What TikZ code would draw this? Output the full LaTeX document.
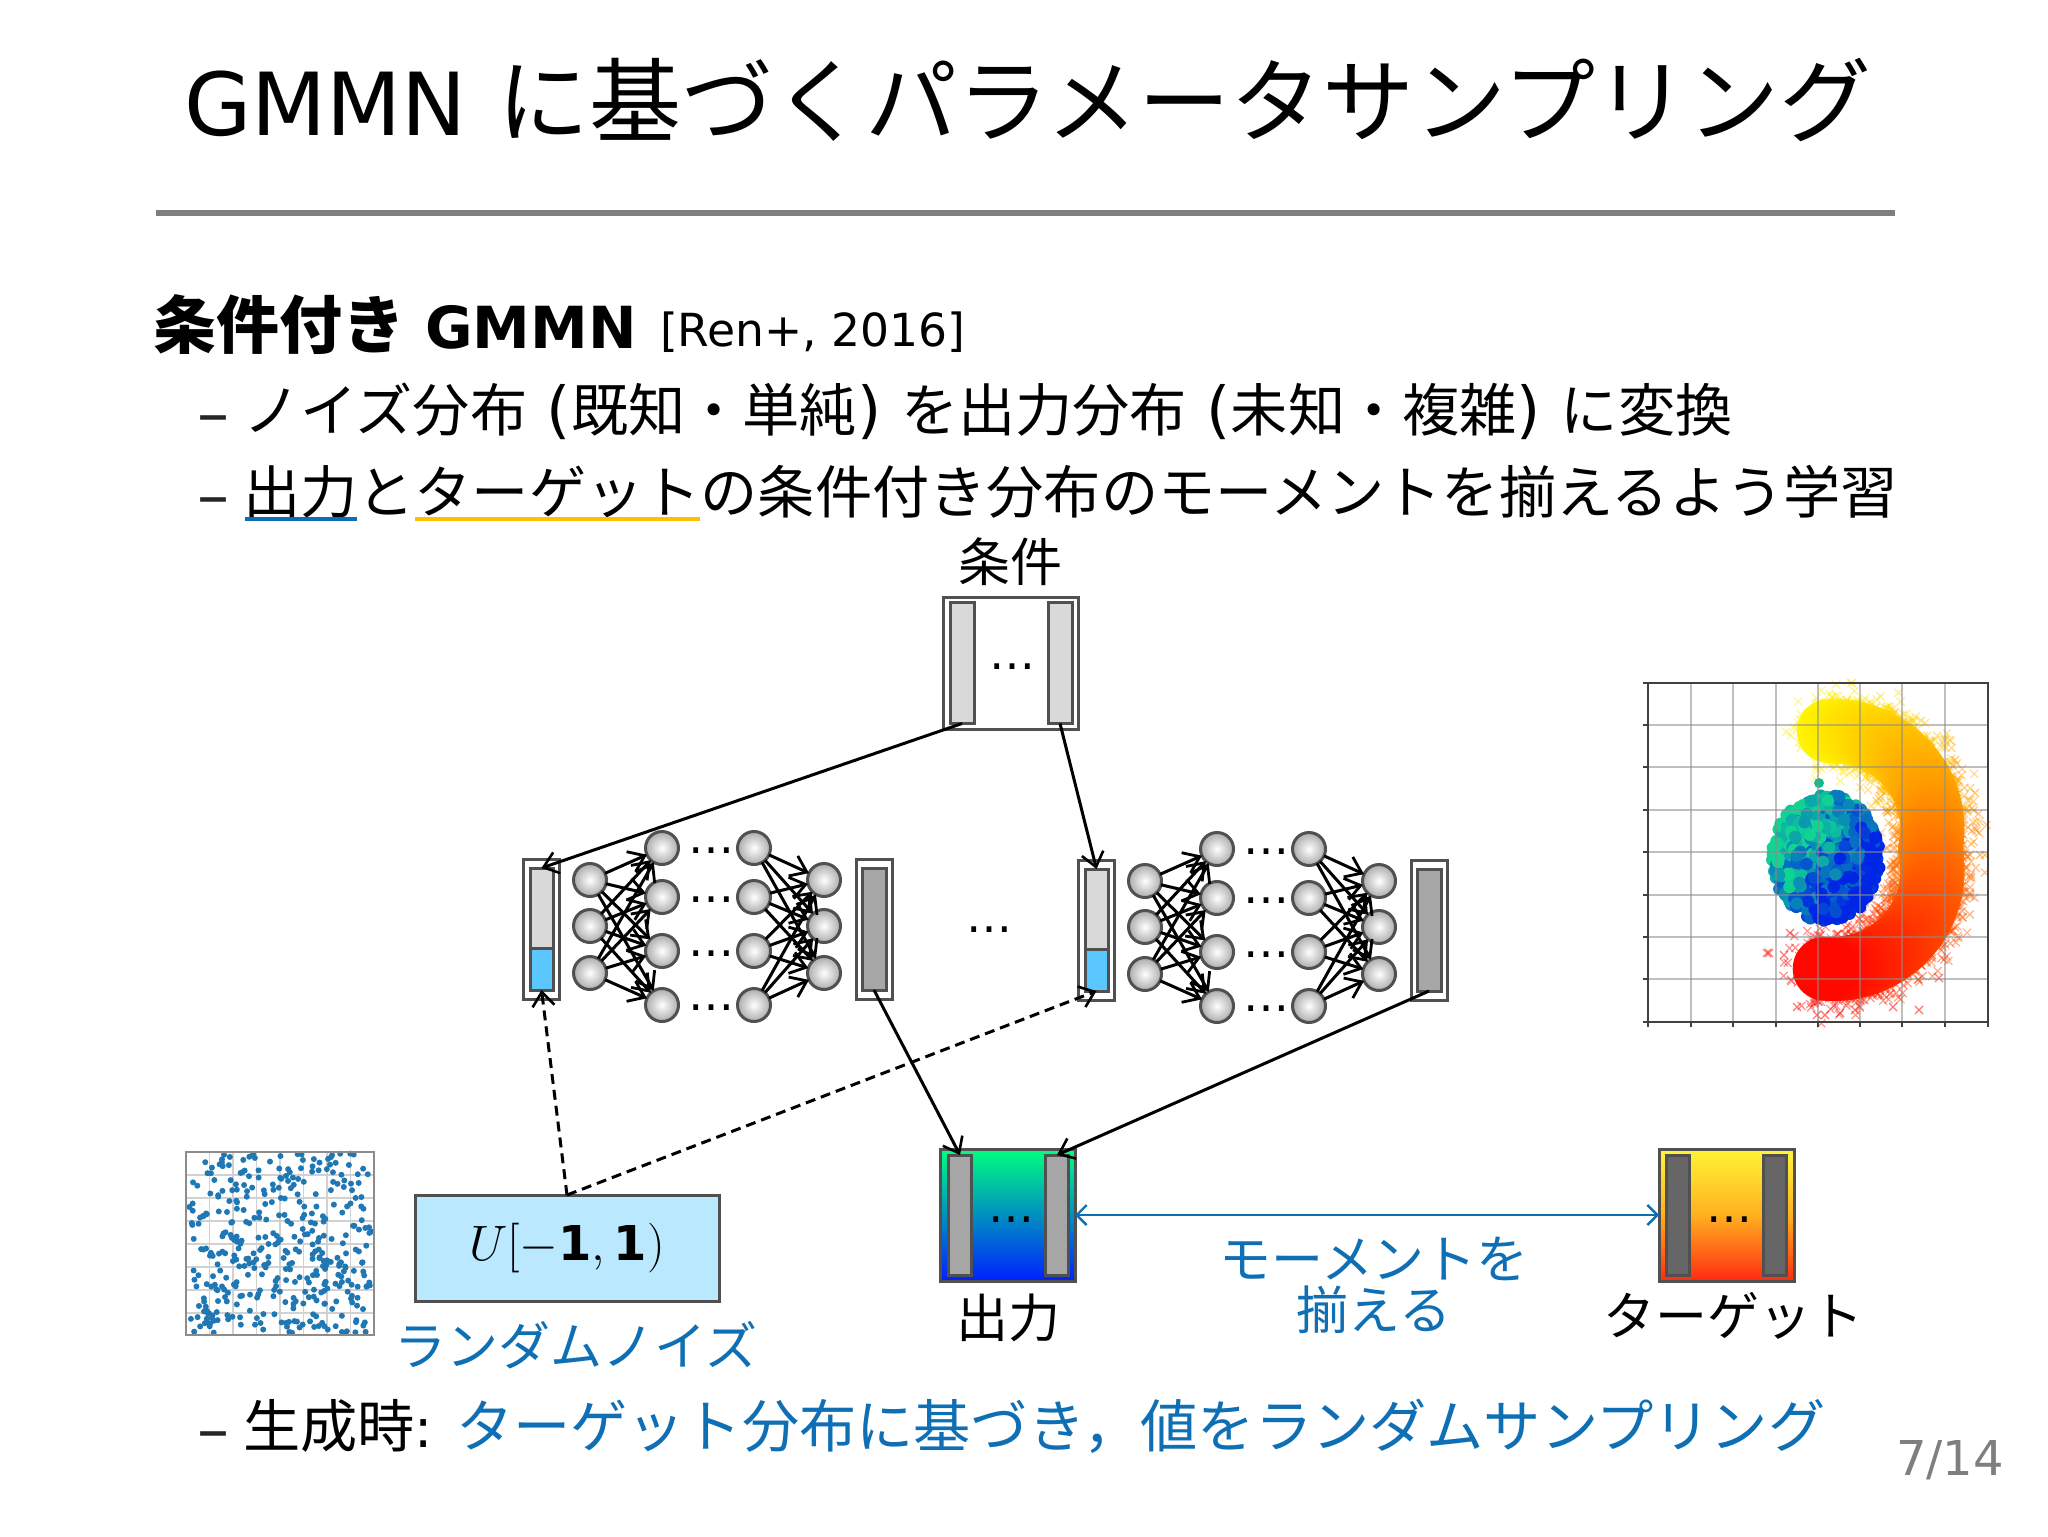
\documentclass[tikz,border=0pt]{standalone}
\usepackage{fontspec}
\setmainfont{DejaVu Sans}
\newfontfamily\jp{Noto Sans CJK JP}
\usetikzlibrary{arrows.meta,calc}
\definecolor{acc}{HTML}{0F6FB5}
\definecolor{edgegray}{HTML}{505050}
\definecolor{pagegray}{HTML}{7F7F7F}
\definecolor{orangeul}{HTML}{FFC000}
\definecolor{barlight}{HTML}{D9D9D9}
\definecolor{bardark}{HTML}{A6A6A6}
\definecolor{bardarker}{HTML}{666666}
\definecolor{skyblue}{HTML}{5AC8FF}
\definecolor{noisefill}{HTML}{B9E8FF}
\definecolor{scatblue}{HTML}{1F77B4}
\definecolor{outtop}{HTML}{00FF80}
\definecolor{outbot}{HTML}{0020FF}
\definecolor{tgttop}{HTML}{FFF535}
\definecolor{tgtmid}{HTML}{FFB020}
\definecolor{tgtbot}{HTML}{FF2A10}
\newcommand{\fs}[1]{\fontsize{#1}{#1}\selectfont}
\newcommand{\jb}[1]{{\jp\fs{28.6}#1}}
\tikzset{
  txt/.style={inner sep=0pt,outer sep=0pt,text=black},
  lbl/.style={inner sep=0pt,outer sep=0pt,text=black,font=\jp\fs{26}},
  lblb/.style={inner sep=0pt,outer sep=0pt,text=acc,font=\jp\fs{26}},
  dashmark/.style={inner sep=0pt,outer sep=0pt,text=black!85,font=\fs{32}},
  barbox/.style={draw=edgegray,line width=1.5pt,inner sep=0pt,outer sep=0pt,rectangle},
  neuron/.style={circle,draw=edgegray,line width=1.5pt,inner sep=0pt,outer sep=0pt,minimum size=16.5pt,inner color=white,outer color=black!33},
  conn/.style={black,line width=1.5pt,-{Straight Barb[length=7pt,width=11pt,line width=1.3pt]}},
  nnedge/.style={black,line width=1.5pt,-{Straight Barb[length=7.5pt,width=11pt,line width=1.4pt]}},
  dconn/.style={conn,dash pattern=on 5pt off 3pt},
  ell/.style={inner sep=0pt,outer sep=0pt,font=\fs{23}},
  mom/.style={acc,line width=1.3pt,{Straight Barb[length=5pt,width=10pt,line width=1.2pt]}-{Straight Barb[length=5pt,width=10pt,line width=1.2pt]}},
}
% #1 prefix, #2 dx, #3 dy
\newcommand{\nnblock}[3]{%
  \node[barbox,fill=white,minimum width=18pt,minimum height=70pt] (#1outL) at (541.5+#2,929+#3) {};
  \node[barbox,fill=barlight,minimum width=11.5pt,minimum height=61pt] (#1in) at (541.5+#2,929+#3) {};
  \node[barbox,fill=skyblue,minimum width=11.5pt,minimum height=21pt] (#1blue) at (541.5+#2,969+#3) {};
  \node[barbox,fill=white,minimum width=18pt,minimum height=70pt] (#1outR) at (874+#2,929+#3) {};
  \node[barbox,fill=bardark,minimum width=12pt,minimum height=61pt] (#1res) at (874+#2,929+#3) {};
  \foreach \i/\yy in {1/880,2/926,3/973}{
    \node[neuron] (#1a\i) at (590+#2,\yy+#3) {};
    \node[neuron] (#1d\i) at (824+#2,\yy+#3) {};
  }
  \foreach \i/\yy in {1/848,2/897,3/951,4/1005}{
    \node[neuron] (#1b\i) at (662+#2,\yy+#3) {};
    \node[neuron] (#1c\i) at (754+#2,\yy+#3) {};
    \node[ell] (#1e\i) at (711+#2,\yy+#3+3) {…};
  }
  \foreach \i in {1,2,3}{\foreach \j in {1,2,3,4}{
    \draw[nnedge] (#1a\i) -- (#1b\j);
    \draw[nnedge] (#1c\j) -- (#1d\i);
  }}
}
\begin{document}
\begin{tikzpicture}[x=0.5pt,y=-0.5pt]
\useasboundingbox (0,0) rectangle (2048,1536);
\fill[white] (0,0) rectangle (2048,1536);

% title
\node[txt,anchor=west] (title) at (184,100) {\fs{43.5}GMMN\hspace{5pt}{\jp\fs{46} に基づくパラメータサンプリング}};
\coordinate (ruleL) at (156,213); \coordinate (ruleR) at (1895,213);
\draw[pagegray,line width=2.6pt] (ruleL) -- (ruleR);

% heading and bullets
\node[txt,anchor=west] (head) at (153,325) {\bfseries{\jp\fs{31.5}条件付き}\fs{29} GMMN};
\node[txt,anchor=west] (ref) at (660,332) {\fs{22.8}[Ren+, 2016]};
\node[dashmark,anchor=west] (d1) at (197,426) {–};
\node[txt,anchor=west] (l1) at (243,411) {\fs{31}\jb{ノイズ分布} (\jb{既知・単純}) \jb{を出力分布} (\jb{未知・複雑}) \jb{に変換}};
\node[dashmark,anchor=west] (d2) at (197,508) {–};
\node[txt,anchor=west] (l2) at (243,492) {\jb{出力とターゲットの条件付き分布のモーメントを揃えるよう学習}};
\draw[acc,line width=1.7pt] (245,519) -- (357,519);
\draw[orangeul,line width=1.7pt] (415,519) -- (700,519);

% top condition box
\node[lbl] (cond) at (1010,562) {条件};
\node[barbox,fill=white,minimum width=67.5pt,minimum height=66pt] (top) at (1010.5,663) {};
\node[barbox,fill=barlight,minimum width=12pt,minimum height=60.5pt] (topL) at (962,663) {};
\node[barbox,fill=barlight,minimum width=12pt,minimum height=60.5pt] (topR) at (1060,663) {};
\node[ell] (topdots) at (1012,667) {…};

% networks
\nnblock{p}{0}{0}
\nnblock{q}{555}{1}
\node[ell] (middots) at (989,930) {…};

% noise box
\node[barbox,fill=noisefill,minimum width=152pt,minimum height=53pt] (noise) at (567,1248) {\fs{24}$U[\mathbf{-1},\mathbf{1})$};
\node[lblb] (noiselbl) at (576,1345) {ランダムノイズ};

% output and target
\node[barbox,top color=outtop,bottom color=outbot,minimum width=67.5pt,minimum height=66pt] (out) at (1007.5,1215) {};
\node[barbox,fill=bardark,minimum width=11.5pt,minimum height=60pt] (outL) at (960,1215) {};
\node[barbox,fill=bardark,minimum width=11.5pt,minimum height=60pt] (outR) at (1057,1215) {};
\node[ell] (outdots) at (1011,1220) {…};
\node[barbox,top color=tgttop,bottom color=tgtbot,middle color=tgtmid,minimum width=67.5pt,minimum height=66pt] (tgt) at (1726.5,1215) {};
\node[barbox,fill=bardarker,minimum width=11.5pt,minimum height=60pt] (tgtL) at (1678,1215) {};
\node[barbox,fill=bardarker,minimum width=11.5pt,minimum height=60pt] (tgtR) at (1775,1215) {};
\node[ell] (tgtdots) at (1729,1220) {…};
\node[lbl] (outlbl) at (1008,1318) {出力};
\node[lbl] (tgtlbl) at (1733,1316) {ターゲット};
\node[lblb] (mom1) at (1374,1259) {モーメントを};
\node[lblb] (mom2) at (1374,1310) {揃える};

% connectors
\draw[conn] (topL.south) -- (pin.north);
\draw[conn] (topR.south) -- (qin.north);
\draw[dconn] (noise.north) -- (pblue.south);
\draw[dconn] (noise.north) -- (qblue.south);
\draw[conn] (pres.south) -- (outL.north);
\draw[conn] (qres.south) -- (outR.north);
\draw[mom] (out.east) -- (tgt.west);

% bottom line
\node[dashmark,anchor=west] (d3) at (197,1442) {–};
\node[txt,anchor=west] (gen) at (243,1426) {\jb{生成時}\fs{27}:};
\node[txt,anchor=west,text=acc] (genb) at (456,1426) {\jb{ターゲット分布に基づき，値をランダムサンプリング}};
\node[txt,anchor=east,text=pagegray] (page) at (2004,1460) {\fs{24}7/14};

% noise scatter (plot)
\begin{scope}
  \pgfmathsetseed{7}
  \foreach \k in {1,...,7}{
    \draw[black!18,line width=.7pt] (186+23.5*\k,1152) -- (186+23.5*\k,1335);
    \draw[black!18,line width=.7pt] (186,1152+23*\k) -- (374,1152+23*\k);
  }
  \foreach \k in {1,...,400}{
    \pgfmathsetmacro{\px}{280+92*rand}
    \pgfmathsetmacro{\py}{1243+90*rand}
    \fill[scatblue] (\px,\py) circle[radius=3];
  }
  \draw[black!45,line width=.9pt] (186,1152) rectangle (374,1335);
\end{scope}

% crescent scatter (plot)
\begin{scope}
  \pgfmathsetseed{11}
  % fringe of crosses around the band
  \foreach \k in {1,...,2200}{
    \pgfmathsetmacro{\th}{92-187*rnd}
    \pgfmathsetmacro{\gg}{max(0,min(1,(100-\th)/200))}
    \pgfmathsetmacro{\gr}{1-\gg}
    \definecolor{cc}{rgb}{1,\gr,0}
    \pgfmathsetmacro{\rr}{97+22*abs(sin(\th))}
    \pgfmathsetmacro{\ph}{360*rnd}
    \pgfmathsetmacro{\rho}{26+32*rnd*rnd}
    \pgfmathsetmacro{\tx}{1833+\rr*cos(\th)+\rho*cos(\ph)}
    \pgfmathsetmacro{\ty}{850-\rr*sin(\th)+\rho*sin(\ph)}
    \draw[cc,opacity=.45,line width=.6pt] (\tx-4,\ty-4) -- (\tx+4,\ty+4) (\tx-4,\ty+4) -- (\tx+4,\ty-4);
  }
  % solid band
  \foreach \th in {92,90,...,-94}{
    \pgfmathsetmacro{\gg}{max(0,min(1,(100-\th)/200))}
    \pgfmathsetmacro{\gr}{1-\gg}
    \definecolor{cc}{rgb}{1,\gr,0}
    \pgfmathsetmacro{\rr}{97+22*abs(sin(\th))}
    \fill[cc] ({1833+\rr*cos(\th)},{850-\rr*sin(\th)}) circle[radius=32];
  }
  % outliers
  \foreach \tx/\ty/\gr in {1767/953/0,1769/953/0,1784/955/0,1790/933/0,1797/1007/0,1893/1007/0,1919/1010/0,1939/978/.1,1955/760/.6,1975/793/.6,1979/833/.6,1980/855/.55,1985/855/.55,1855/1010/0,1825/1015/0,1817/1015/0,1840/1013/0}{
    \definecolor{cc}{rgb}{1,\gr,0}
    \draw[cc,opacity=.55,line width=.6pt] (\tx-4,\ty-4) -- (\tx+4,\ty+4) (\tx-4,\ty+4) -- (\tx+4,\ty-4);
  }
  % blue cluster
  \foreach \k in {1,...,650}{
    \pgfmathsetmacro{\an}{360*rnd}
    \pgfmathsetmacro{\ra}{sqrt(rnd)}
    \pgfmathsetmacro{\dx}{54*\ra*cos(\an)}
    \pgfmathsetmacro{\dy}{64*\ra*sin(\an)}
    \pgfmathsetmacro{\tt}{max(0,min(1,.42-\dx/100-\dy/130+.4*rand))}
    \pgfmathsetmacro{\cr}{.06*\tt}
    \pgfmathsetmacro{\cg}{.15+.68*\tt}
    \pgfmathsetmacro{\cb}{.90-.32*\tt}
    \definecolor{cc}{rgb}{\cr,\cg,\cb}
    \fill[cc] (1826+\dx,858+\dy) circle[radius=6.2];
  }
  \definecolor{cc}{rgb}{.05,.75,.55}
  \fill[cc] (1819,783) circle[radius=5];
  % grid over everything
  \foreach \gx in {1691,1733,1776,1818,1860,1902,1945}{
    \draw[black!45,opacity=.55,line width=.8pt] (\gx,683) -- (\gx,1022);
    \draw[black!75,line width=.6pt] (\gx,1022) -- (\gx,1027);
  }
  \foreach \gy in {725,767,810,852,895,937,979}{
    \draw[black!45,opacity=.55,line width=.8pt] (1648,\gy) -- (1988,\gy);
    \draw[black!75,line width=.6pt] (1648,\gy) -- (1643,\gy);
  }
  \draw[black!75,line width=.6pt] (1648,1022) -- (1648,1027) (1988,1022) -- (1988,1027) (1648,683) -- (1643,683) (1648,1022) -- (1643,1022);
  \draw[black!75,line width=.8pt] (1648,683) rectangle (1988,1022);
\end{scope}
\end{tikzpicture}
\end{document}
